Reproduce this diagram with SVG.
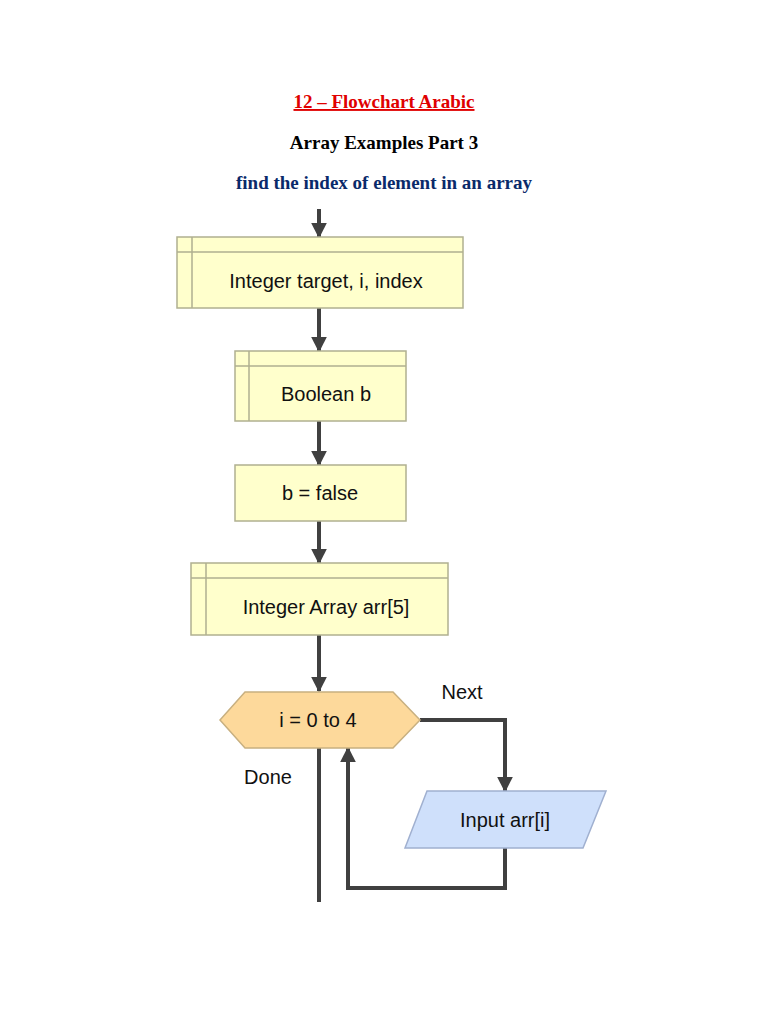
<svg xmlns="http://www.w3.org/2000/svg" width="768" height="1024" viewBox="0 0 768 1024">
<style>
.t{font-family:"Liberation Serif",serif;font-weight:bold;font-size:19px;text-anchor:middle}
.n{font-family:"Liberation Sans",Arial,sans-serif;font-size:20px;fill:#111;text-anchor:middle}
.b{fill:#ffffcc;stroke:#b0b090;stroke-width:1.5}
.c{fill:none;stroke:#404040;stroke-width:4}
</style>
<defs><marker id="a" viewBox="0 0 10 10" refX="9" refY="5" markerWidth="4" markerHeight="4" markerUnits="strokeWidth" orient="auto"><path d="M0,0L10,5L0,10z" fill="#404040"/></marker></defs>
<rect width="768" height="1024" fill="#fff"/>
<text class="t" x="384" y="108" fill="#e00000" text-decoration="underline">12 – Flowchart Arabic</text>
<text class="t" x="384" y="149" fill="#000">Array Examples Part 3</text>
<text class="t" x="384" y="189" fill="#0a2a6a">find the index of element in an array</text>
<g id="connectors">
<path class="c" d="M319,209V237" marker-end="url(#a)"/>
<path class="c" d="M319,308V351" marker-end="url(#a)"/>
<path class="c" d="M319,421V465" marker-end="url(#a)"/>
<path class="c" d="M319,521V563" marker-end="url(#a)"/>
<path class="c" d="M319,635V691" marker-end="url(#a)"/>
<path class="c" d="M420,720H505V791" marker-end="url(#a)"/>
<path class="c" d="M505,848V888H348V748" marker-end="url(#a)"/>
<path class="c" d="M319,748V902"/>
</g>
<g id="n1"><rect class="b" x="177" y="237" width="286" height="71"/><path class="b" d="M177,252H463M192,237V308"/><text class="n" x="326" y="288">Integer target, i, index</text></g>
<g id="n2"><rect class="b" x="235" y="351" width="171" height="70"/><path class="b" d="M235,366H406M249,351V421"/><text class="n" x="326" y="401">Boolean b</text></g>
<g id="n3"><rect class="b" x="235" y="465" width="171" height="56"/><text class="n" x="320" y="500">b = false</text></g>
<g id="n4"><rect class="b" x="191" y="563" width="257" height="72"/><path class="b" d="M191,578H448M206,563V635"/><text class="n" x="326" y="614">Integer Array arr[5]</text></g>
<g id="n5"><polygon points="220,720 245,692 393,692 420,720 393,748 245,748" fill="#fdd99b" stroke="#c8b080" stroke-width="1.5"/><text class="n" x="318" y="727">i = 0 to 4</text></g>
<g id="n6"><polygon points="427,791 606,791 583,848 405,848" fill="#cfe0fb" stroke="#a0b0d0" stroke-width="1.5"/><text class="n" x="505" y="827">Input arr[i]</text></g>
<text class="n" x="462" y="699">Next</text>
<text class="n" x="268" y="784">Done</text>
</svg>
